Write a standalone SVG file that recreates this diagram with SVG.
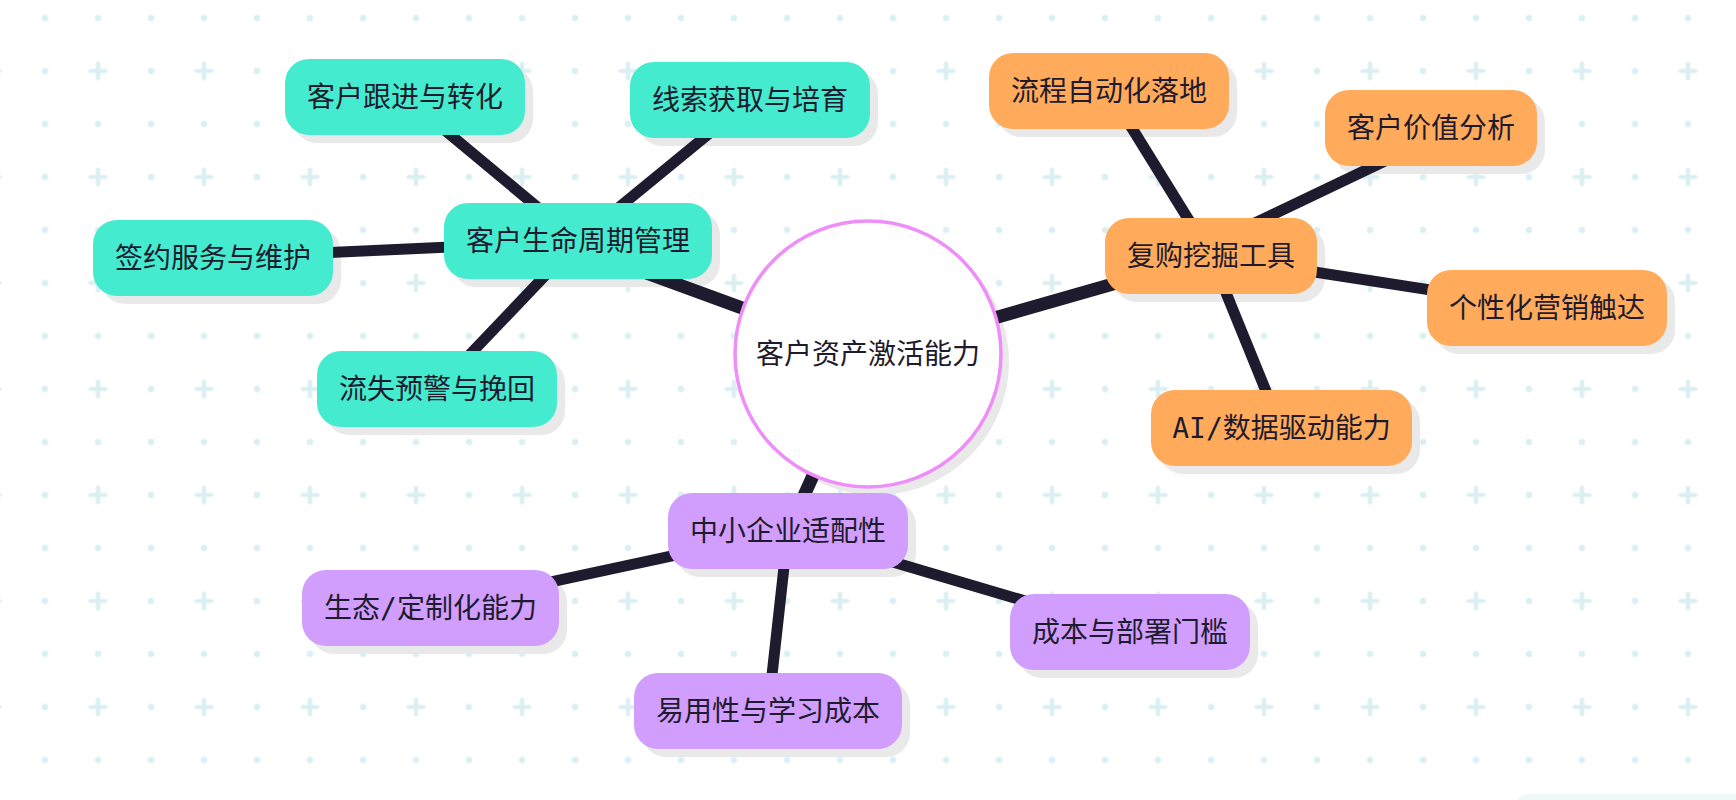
<svg xmlns="http://www.w3.org/2000/svg" width="1736" height="800" viewBox="0 0 1736 800">
<defs>
<pattern id="grid" patternUnits="userSpaceOnUse" x="18.5" y="-8.5" width="106" height="106">
<circle cx="26.5" cy="26.5" r="3.2" fill="#d9eff2"/>
<circle cx="79.5" cy="26.5" r="3.2" fill="#d9eff2"/>
<circle cx="26.5" cy="79.5" r="3.2" fill="#d9eff2"/>
<path d="M72 79.5h15M79.5 72v15" stroke="#d9eff2" stroke-width="4.2" stroke-linecap="round"/>
</pattern>
<style>
.t{font-family:"DejaVu Sans Mono","Noto Sans CJK SC",monospace;font-size:28px;font-weight:400;fill:#1e1b2e;text-anchor:middle;dominant-baseline:central}
.sh{fill:#e9e9e9}
.teal{fill:#44ebcf}
.orange{fill:#ffab5b}
.purple{fill:#d19efe}
.trunk{stroke:#1e1b2e;stroke-width:13;fill:none}
.branch{stroke:#1e1b2e;stroke-width:11;fill:none}
</style>
</defs>
<rect width="1736" height="800" fill="#ffffff"/>
<rect width="1736" height="800" fill="url(#grid)"/>
<rect x="1515" y="794" width="260" height="40" rx="14" fill="#eef8f9"/>

<g id="shadows">
<rect class="sh" x="293" y="67" width="240" height="76" rx="24"/>
<rect class="sh" x="638" y="70" width="240" height="76" rx="24"/>
<rect class="sh" x="452" y="211" width="268" height="76" rx="24"/>
<rect class="sh" x="101" y="228" width="240" height="76" rx="24"/>
<rect class="sh" x="325" y="359" width="240" height="76" rx="24"/>
<circle class="sh" cx="876" cy="362" r="133"/>
<rect class="sh" x="997" y="61" width="240" height="76" rx="24"/>
<rect class="sh" x="1333" y="98" width="212" height="76" rx="24"/>
<rect class="sh" x="1113" y="226" width="212" height="76" rx="24"/>
<rect class="sh" x="1435" y="278" width="240" height="76" rx="24"/>
<rect class="sh" x="1159" y="398" width="261" height="76" rx="24"/>
<rect class="sh" x="676" y="501" width="240" height="76" rx="24"/>
<rect class="sh" x="310" y="578" width="257" height="76" rx="24"/>
<rect class="sh" x="1018" y="602" width="240" height="76" rx="24"/>
<rect class="sh" x="642" y="681" width="268" height="76" rx="24"/>
</g>

<g id="connectors">
<line class="trunk" x1="578" y1="248" x2="868" y2="354"/>
<line class="trunk" x1="868" y1="354" x2="1211" y2="256"/>
<line class="trunk" x1="868" y1="354" x2="788" y2="531"/>
<line class="branch" x1="578" y1="241" x2="405" y2="97"/>
<line class="branch" x1="578" y1="241" x2="750" y2="100"/>
<line class="branch" x1="578" y1="241" x2="213" y2="258"/>
<line class="branch" x1="578" y1="241" x2="437" y2="389"/>
<line class="branch" x1="1211" y1="256" x2="1109" y2="91"/>
<line class="branch" x1="1211" y1="244" x2="1431" y2="139"/>
<line class="branch" x1="1211" y1="256" x2="1547" y2="308"/>
<line class="branch" x1="1211" y1="256" x2="1281" y2="428"/>
<line class="branch" x1="788" y1="531" x2="430" y2="608"/>
<line class="branch" x1="788" y1="531" x2="1130" y2="632"/>
<line class="branch" x1="788" y1="531" x2="768" y2="711"/>
</g>

<g id="root">
<circle cx="868" cy="354" r="133" fill="#ffffff" stroke="#ef8ef8" stroke-width="3.5"/>
<text class="t" x="868" y="354">客户资产激活能力</text>
</g>

<g id="n-lifecycle">
<rect class="teal" x="444" y="203" width="268" height="76" rx="24"/>
<text class="t" x="578" y="241">客户生命周期管理</text>
</g>
<g id="n-followup">
<rect class="teal" x="285" y="59" width="240" height="76" rx="24"/>
<text class="t" x="405" y="97">客户跟进与转化</text>
</g>
<g id="n-leads">
<rect class="teal" x="630" y="62" width="240" height="76" rx="24"/>
<text class="t" x="750" y="100">线索获取与培育</text>
</g>
<g id="n-contract">
<rect class="teal" x="93" y="220" width="240" height="76" rx="24"/>
<text class="t" x="213" y="258">签约服务与维护</text>
</g>
<g id="n-churn">
<rect class="teal" x="317" y="351" width="240" height="76" rx="24"/>
<text class="t" x="437" y="389">流失预警与挽回</text>
</g>

<g id="n-repurchase">
<rect class="orange" x="1105" y="218" width="212" height="76" rx="24"/>
<text class="t" x="1211" y="256">复购挖掘工具</text>
</g>
<g id="n-automation">
<rect class="orange" x="989" y="53" width="240" height="76" rx="24"/>
<text class="t" x="1109" y="91">流程自动化落地</text>
</g>
<g id="n-value">
<rect class="orange" x="1325" y="90" width="212" height="76" rx="24"/>
<text class="t" x="1431" y="128">客户价值分析</text>
</g>
<g id="n-marketing">
<rect class="orange" x="1427" y="270" width="240" height="76" rx="24"/>
<text class="t" x="1547" y="308">个性化营销触达</text>
</g>
<g id="n-ai">
<rect class="orange" x="1151" y="390" width="261" height="76" rx="24"/>
<text class="t" x="1281.5" y="428">AI/数据驱动能力</text>
</g>

<g id="n-sme">
<rect class="purple" x="668" y="493" width="240" height="76" rx="24"/>
<text class="t" x="788" y="531">中小企业适配性</text>
</g>
<g id="n-eco">
<rect class="purple" x="302" y="570" width="257" height="76" rx="24"/>
<text class="t" x="430.5" y="608">生态/定制化能力</text>
</g>
<g id="n-cost">
<rect class="purple" x="1010" y="594" width="240" height="76" rx="24"/>
<text class="t" x="1130" y="632">成本与部署门槛</text>
</g>
<g id="n-ease">
<rect class="purple" x="634" y="673" width="268" height="76" rx="24"/>
<text class="t" x="768" y="711">易用性与学习成本</text>
</g>
</svg>
